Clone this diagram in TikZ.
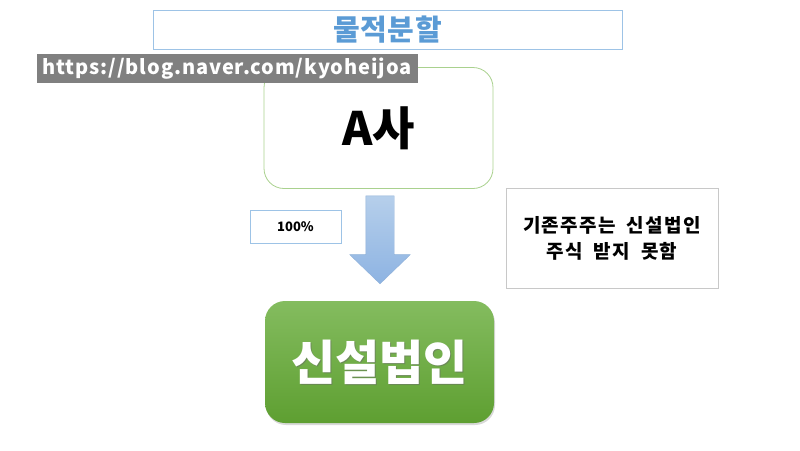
\documentclass[tikz,border=0pt]{standalone}
\usepackage{fontspec}
\setmainfont{Noto Sans CJK KR}
\usetikzlibrary{shapes.arrows,shadows,fadings}
\definecolor{titleblue}{HTML}{5B9BD5}
\definecolor{lineblue}{HTML}{9DC3E6}
\definecolor{boxgreen}{HTML}{A9D18E}
\definecolor{greentop}{HTML}{84BC5F}
\definecolor{greenbot}{HTML}{5E9F31}
\definecolor{arrtop}{HTML}{B6CFEB}
\definecolor{arrbot}{HTML}{8DB3E2}
\definecolor{arredge}{HTML}{8FB0D8}
\definecolor{graybox}{HTML}{C8C8C8}
\definecolor{wmgray}{HTML}{808080}
\newcommand{\wsp}{\hspace{11pt}}
\tikzset{
  px/.style={x=1pt,y=-1pt},
  fs/.style={font=\fontsize{#1}{#1}\selectfont\bfseries},
}
\begin{document}
\begin{tikzpicture}[px]
\useasboundingbox (0,0) rectangle (800,450);
% title
\node[draw=lineblue, line width=0.8pt, minimum width=469pt, minimum height=39pt, inner sep=0pt, text=titleblue, font=\fontsize{29}{29}\selectfont\bfseries\addfontfeature{LetterSpace=2}] (title) at (387.5,29.5) {물적분할};
% A company
\node[draw=boxgreen, line width=0.8pt, rounded corners=20pt, minimum width=229pt, minimum height=121pt, inner sep=0pt, fs=46] (a) at (378.5,128) {A사};
% watermark
\node[fill=wmgray, text=white, minimum width=381pt, minimum height=29pt, inner sep=0pt, font=\fontsize{20}{20}\selectfont\bfseries\addfontfeature{LetterSpace=4.5}] (wm) at (227,68.5) {https://blog.naver.com/kyoheijoa};
% arrow
\node[single arrow, shape border rotate=270, draw=arredge, line width=0.4pt, top color=arrtop, bottom color=arrbot, minimum width=60pt, single arrow head extend=16pt, single arrow tip angle=92, single arrow head indent=0pt, minimum height=88pt, inner sep=0pt, text width=28pt] (arr) at (380,233) {};
% 100%
\node[draw=lineblue, line width=0.8pt, minimum width=91pt, minimum height=33pt, inner sep=0pt, fs=13] (pct) at (295.5,226.5) {100\%};
% note
\node[draw=graybox, line width=0.8pt, minimum width=212pt, minimum height=100pt, inner sep=0pt, align=center, font=\fontsize{19}{26}\selectfont\bfseries\addfontfeature{LetterSpace=7}] (note) at (612,238) {기존주주는\wsp 신설법인\\주식\wsp 받지\wsp 못함};
% new company
\node[rounded corners=20pt, minimum width=229pt, minimum height=122pt, inner sep=0pt, top color=greentop, bottom color=greenbot, drop shadow={shadow xshift=1pt, shadow yshift=-2pt, opacity=0.3}] (new) at (379.5,362) {};
\node[text=black!60, opacity=0.5, fs=48] (newsh) at ([xshift=1.2pt,yshift=-1.5pt]new.center) {신설법인};
\node[text=white, fs=48] (newt) at (new.center) {신설법인};
\end{tikzpicture}
\end{document}
